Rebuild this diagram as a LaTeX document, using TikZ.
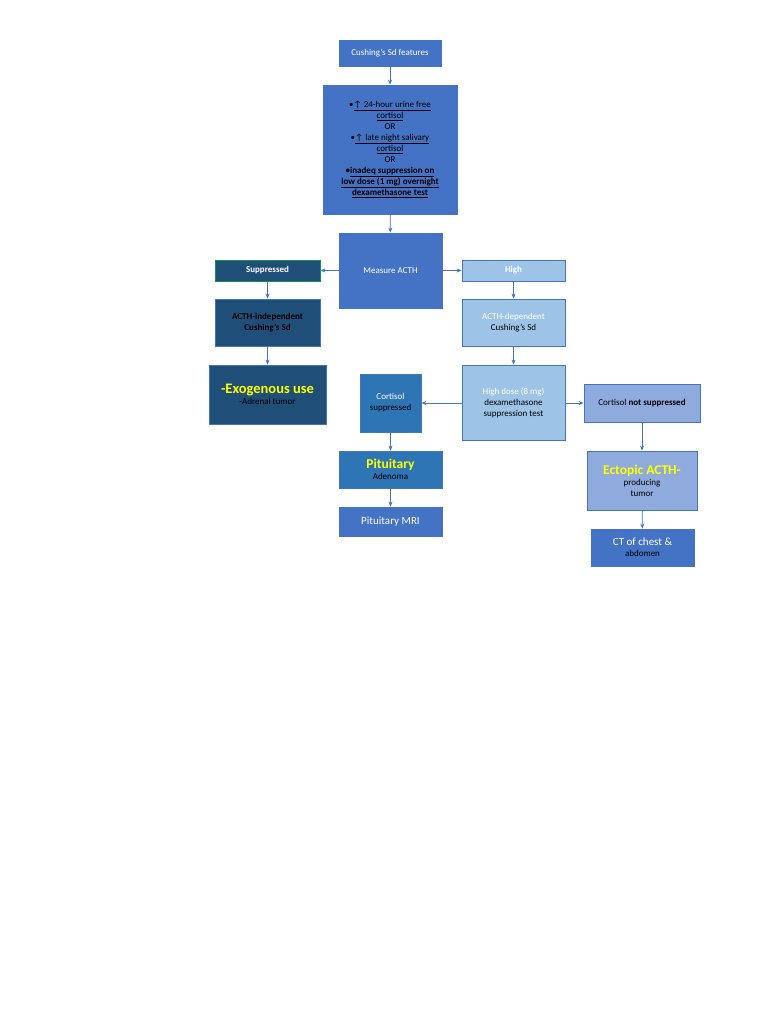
\documentclass[tikz,border=0pt]{standalone}
\usepackage{fontspec}
\setmainfont{Carlito}
\usetikzlibrary{arrows.meta}
\definecolor{mblue}{HTML}{4472C4}
\definecolor{dblue}{HTML}{1F4E79}
\definecolor{lblue}{HTML}{9DC3E6}
\definecolor{sblue}{HTML}{2E75B6}
\definecolor{pblue}{HTML}{8FAADC}
\definecolor{ylw}{HTML}{FFFF00}
\begin{document}
\begin{tikzpicture}[x=1pt,y=-1pt,
  bx/.style={draw=mblue,line width=0.8pt,align=center,inner sep=0pt,font=\fontsize{9}{11}\selectfont},
  arr/.style={draw=mblue,line width=0.8pt,-{Stealth[length=5pt,width=4pt]}}]
\useasboundingbox[fill=white] (0,0) rectangle (768,1024);
\newcommand\bxat[6]{\node[bx,fill=#5,minimum width=#3-#1,minimum height=#4-#2] (#6) at ({(#1+#3)/2},{(#2+#4)/2})}
\bxat{339}{40}{441}{66}{mblue}{cush} {\color{white}Cushing's Sd features};
\bxat{323}{85}{457}{214}{mblue}{crit} {\fontsize{9}{12.6}\selectfont
 •\underline{↑ 24-hour urine free}\\ \underline{cortisol}\\ OR\\
 •\underline{↑ late night salivary}\\ \underline{cortisol}\\ OR\\
 \textbf{•\underline{inadeq suppression on}}\\ \textbf{\underline{low dose (1 mg) overnight}}\\ \textbf{\underline{dexamethasone test}}};
\bxat{339}{233}{442}{308}{mblue}{meas} {\color{white}Measure ACTH};
\node[bx,draw=green!40!dblue,fill=dblue,minimum width=105,minimum height=21] (supp) at (267.5,270.5) {\color{white}\bfseries Suppressed};
\bxat{462}{260}{565}{281}{lblue}{high} {\color{white}\bfseries High};
\bxat{215}{299}{320}{346}{dblue}{indep} {\bfseries ACTH-independent\\ \bfseries Cushing's Sd};
\bxat{209}{365}{326}{424}{dblue}{exo} {\fontsize{14.5}{20}\selectfont\bfseries\color{ylw}-Exogenous use\\ -Adrenal tumor};
\bxat{462}{299}{565}{346}{lblue}{dep} {\color{white}ACTH-dependent\\ Cushing's Sd};
\bxat{462}{365}{565}{440}{lblue}{hd} {\fontsize{9}{13}\selectfont\color{white}High dose (8 mg)\\ dexamethasone\\ suppression test};
\bxat{360}{374}{421}{432}{sblue}{cs} {\fontsize{9}{13}\selectfont\color{white}Cortisol\\ suppressed};
\bxat{584}{384}{700}{422}{pblue}{cns} {Cortisol \textbf{not suppressed}};
\bxat{339}{451}{442}{488}{sblue}{pit} {\fontsize{13.5}{17}\selectfont\bfseries\color{ylw}Pituitary\\ Adenoma};
\bxat{339}{507}{442}{536}{mblue}{mri} {\fontsize{11}{13}\selectfont\color{white}Pituitary MRI};
\bxat{587}{451}{697}{510}{pblue}{ect} {\fontsize{13.5}{17}\selectfont\bfseries\color{ylw}Ectopic ACTH-\\ producing\\ tumor};
\bxat{591}{529}{694}{566}{mblue}{ct} {\fontsize{11}{13.5}\selectfont\color{white}CT of chest \&\\ abdomen};
\draw[arr] (cush) -- (crit);
\draw[arr] (crit) -- (meas);
\draw[arr] (meas.west|-supp) -- (supp);
\draw[arr] (meas.east|-high) -- (high);
\draw[arr] (supp) -- (indep);
\draw[arr] (indep) -- (exo);
\draw[arr] (high) -- (dep);
\draw[arr] (dep) -- (hd);
\draw[arr] (hd.west|-cs) -- (cs);
\draw[arr] (hd.east|-cns) -- (cns);
\draw[arr] (cs) -- (pit);
\draw[arr] (pit) -- (mri);
\draw[arr] (cns.south-|ect) -- (ect);
\draw[arr] (ect) -- (ct);
\end{tikzpicture}
\end{document}
